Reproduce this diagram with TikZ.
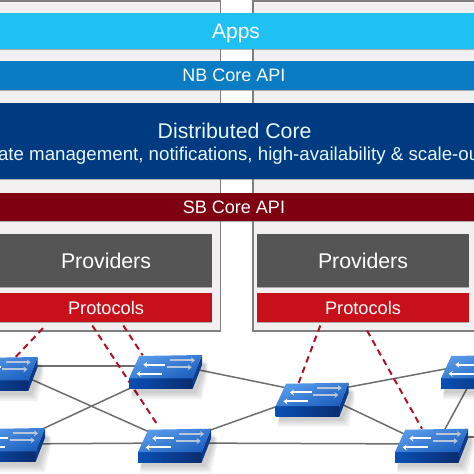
\documentclass[tikz,border=0pt]{standalone}
\usepackage{fontspec}
\setmainfont{Liberation Sans}
\usetikzlibrary{arrows.meta,shadows}
\definecolor{panelfill}{HTML}{F1EFEF}
\definecolor{panelline}{HTML}{7F7F7F}
\definecolor{appsblue}{HTML}{1FC1F2}
\definecolor{nbblue}{HTML}{0A7CC4}
\definecolor{coreblue}{HTML}{003A80}
\definecolor{sbred}{HTML}{7F0010}
\definecolor{provgrey}{HTML}{555555}
\definecolor{protored}{HTML}{C8101A}
\definecolor{ctrlred}{HTML}{B01028}
\definecolor{linkgrey}{HTML}{6E6E6E}
\definecolor{swtopa}{HTML}{5A9CEA}
\definecolor{swtopb}{HTML}{1C5FBE}
\definecolor{swfronta}{HTML}{0A50B4}
\definecolor{swfrontb}{HTML}{0A2C70}
\definecolor{swside}{HTML}{0C3C8C}
\definecolor{swarrowgrey}{HTML}{B8C6DC}
\tikzset{
  panel/.style={draw=panelline,line width=1.6pt,fill=panelfill},
  bar/.style={draw=none,inner sep=0pt,text=white,text depth=0pt,
    font=\fontsize{#1}{#1}\selectfont,text height=0.716*#1 pt,
    drop shadow={shadow xshift=0pt,shadow yshift=-1.3pt,fill=black!55,opacity=.55}},
  corelabel/.style={text=white!90!cyan,inner sep=0pt},
  linkline/.style={draw=linkgrey,line width=1.5pt},
  ctrl/.style={draw=ctrlred,line width=2pt,dash pattern=on 6.5pt off 4.5pt},
  swarrow/.style={line width=2pt,-{Stealth[length=4pt,width=6pt]}},
  netswitch/.pic={
    \foreach \s in {1,2,3,4}{
      \fill[black,opacity=.05] (-30+\s,-10+\s) -- (39+\s,-12+\s) -- (39+\s,-4+\s) -- (29+2*\s,19+2*\s) -- (-34,19+2*\s) -- cycle;
    }
    \shade[left color=swfronta,right color=swfrontb] (-36,6.3) -- (27.7,6.3) -- (27.7,16.7) -- (-36,16.7) -- cycle;
    \fill[swside] (27.7,6.3) -- (37,-17) -- (37,-7) -- (27.7,16.7) -- cycle;
    \shade[top color=swtopa,bottom color=swtopb,shading angle=20] (-25.7,-16) -- (37,-17) -- (27.7,6.3) -- (-36,6.3) -- cycle;
    \draw[swarrow,draw=swarrowgrey,fill=swarrowgrey] (5,-11.7) -- (30,-11.7);
    \draw[swarrow,draw=swarrowgrey,fill=swarrowgrey] (1.7,-4.7) -- (26.7,-4.7);
    \draw[swarrow,draw=white,fill=white] (0,-7.3) -- (-21.7,-7.3);
    \draw[swarrow,draw=white,fill=white] (-3.3,1.7) -- (-28.3,1.7);
  }
}
\begin{document}
\begin{tikzpicture}[x=1pt,y=-1pt]
\useasboundingbox (0,0) rectangle (474,474);
\clip (0,0) rectangle (474,474);
\fill[white] (0,0) rectangle (474,474);

% controller instances
\draw[panel] (-10,1) rectangle (220.3,330.7);
\draw[panel] (252.7,1) rectangle (490,330.7);

% layers
\node[bar=21,fill=appsblue,minimum width=560pt,minimum height=35.5pt] (apps) at (236,30.75) {Apps};
\node[bar=18,fill=nbblue,minimum width=560pt,minimum height=29pt] (nb) at (234,75.5) {NB Core API};
\node[bar=18,fill=coreblue,minimum width=560pt,minimum height=76pt] (core) at (234,141) {};
\node[corelabel,font=\fontsize{21.3}{21.3}\selectfont] (coretitle) at (234.6,131) {Distributed Core};
\node[corelabel,font=\fontsize{18.7}{18.7}\selectfont] (coresub) at (234,156) {state management, notifications, high-availability \& scale-out};
\node[bar=18,fill=sbred,minimum width=560pt,minimum height=28.5pt] (sb) at (234,206.75) {SB Core API};

\node[bar=21.3,fill=provgrey,minimum width=212pt,minimum height=53pt] (provL) at (106,260.5) {Providers};
\node[bar=21.3,fill=provgrey,minimum width=212pt,minimum height=53pt] (provR) at (363,260.5) {Providers};
\node[bar=18.2,fill=protored,minimum width=212pt,minimum height=29pt] (protoL) at (106,307.5) {Protocols};
\node[bar=18.2,fill=protored,minimum width=212pt,minimum height=29pt] (protoR) at (363,307.5) {Protocols};

% switch positions
\coordinate (swA) at (0.7,374);
\coordinate (swB) at (165,372);
\coordinate (swC) at (8,445);
\coordinate (swD) at (174,445.7);
\coordinate (swE) at (311.7,399.7);
\coordinate (swF) at (431,445.7);
\coordinate (swG) at (477,372);
\coordinate (out) at (480,437);

% data links
\draw[linkline] ([yshift=8pt]swA) -- ([yshift=6pt]swB);
\draw[linkline] ([yshift=8.3pt]swA) -- ([yshift=2.7pt]swD);
\draw[linkline] (swC) -- (swB);
\draw[linkline] ([yshift=1pt]swC) -- ([yshift=2.7pt]swD);
\draw[linkline] ([yshift=9pt]swB) -- ([yshift=6.7pt]swE);
\draw[linkline] ([yshift=2.7pt]swD) -- ([yshift=5.7pt]swE);
\draw[linkline] ([yshift=2.7pt]swD) -- ([yshift=1.7pt]swF);
\draw[linkline] ([yshift=5.7pt]swE) -- ([yshift=9pt]swG);
\draw[linkline] ([yshift=9.7pt]swE) -- ([yshift=-1pt]swF);
\draw[linkline] ([yshift=-9.3pt]swF) -- ([yshift=2pt]swG);
\draw[linkline] ([yshift=8.7pt]swF) -- (out);

% control links
\draw[ctrl] ([xshift=-63pt,yshift=-6pt]protoL.south) -- ([xshift=14.3pt,yshift=16.3pt]swA);
\draw[ctrl] ([xshift=-13.7pt,yshift=-3.3pt]protoL.south) -- ([xshift=-17.3pt,yshift=22pt]swD);
\draw[ctrl] ([xshift=17.3pt,yshift=-3.3pt]protoL.south) -- ([xshift=-22.3pt,yshift=16.7pt]swB);
\draw[ctrl] ([xshift=-42.7pt,yshift=-3.3pt]protoR.south) -- ([xshift=-13pt,yshift=17pt]swE);
\draw[ctrl] ([xshift=4pt,yshift=-8.3pt]protoR.south) -- ([xshift=-9pt,yshift=17pt]swF);

% switches
\foreach \p in {swA,swB,swC,swD,swE,swF,swG}{
  \pic at (\p) {netswitch};
}
\end{tikzpicture}
\end{document}
